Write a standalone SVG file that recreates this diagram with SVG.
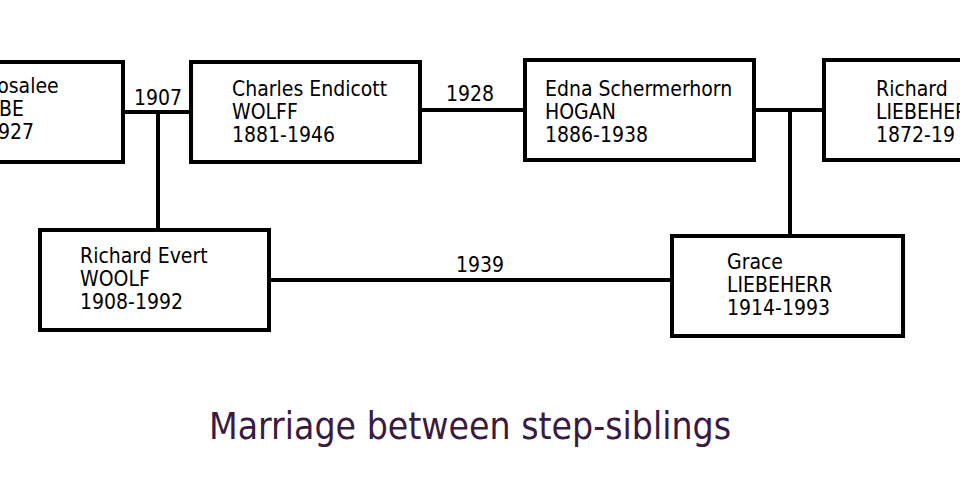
<svg xmlns="http://www.w3.org/2000/svg" width="960" height="504" viewBox="0 0 960 504">
<style>
.box{fill:#fff;stroke:#000;stroke-width:4}
.ln{stroke:#000;stroke-width:4;fill:none}
text{font-family:"DejaVu Sans Condensed","DejaVu Sans",sans-serif;font-size:21px;fill:#000}
.title{font-size:37px;fill:#3a1a40;text-anchor:middle}
.lbl{text-anchor:middle}
</style>
<rect width="960" height="504" fill="#fff"/>
<g id="connectors">
<path class="ln" d="M123 112H191M420 110H525M754 110H824M158 112V230M790 110V236M269 280H672"/>
<text class="lbl" x="158" y="105">1907</text>
<text class="lbl" x="470" y="101">1928</text>
<text class="lbl" x="480" y="272">1939</text>
</g>
<g id="rosalee"><rect class="box" x="-120" y="62" width="243" height="100"/>
<text x="-15" y="93">Rosalee</text><text x="-1" y="116">BE</text><text x="-14" y="139">1927</text></g>
<g id="charles"><rect class="box" x="191" y="62" width="229" height="100"/>
<text x="232" y="96">Charles Endicott</text><text x="232" y="119">WOLFF</text><text x="232" y="142">1881-1946</text></g>
<g id="edna"><rect class="box" x="525" y="60" width="229" height="100"/>
<text x="545" y="96">Edna Schermerhorn</text><text x="545" y="119">HOGAN</text><text x="545" y="142">1886-1938</text></g>
<g id="richard"><rect class="box" x="824" y="60" width="200" height="100"/>
<text x="876" y="96">Richard</text><text x="876" y="119">LIEBEHERR</text><text x="876" y="142">1872-19</text></g>
<g id="richard-evert"><rect class="box" x="40" y="230" width="229" height="100"/>
<text x="80" y="263">Richard Evert</text><text x="80" y="286">WOOLF</text><text x="80" y="309">1908-1992</text></g>
<g id="grace"><rect class="box" x="672" y="236" width="231" height="100"/>
<text x="727" y="269">Grace</text><text x="727" y="292">LIEBEHERR</text><text x="727" y="315">1914-1993</text></g>
<text class="title" x="470" y="439">Marriage between step-siblings</text>
</svg>
